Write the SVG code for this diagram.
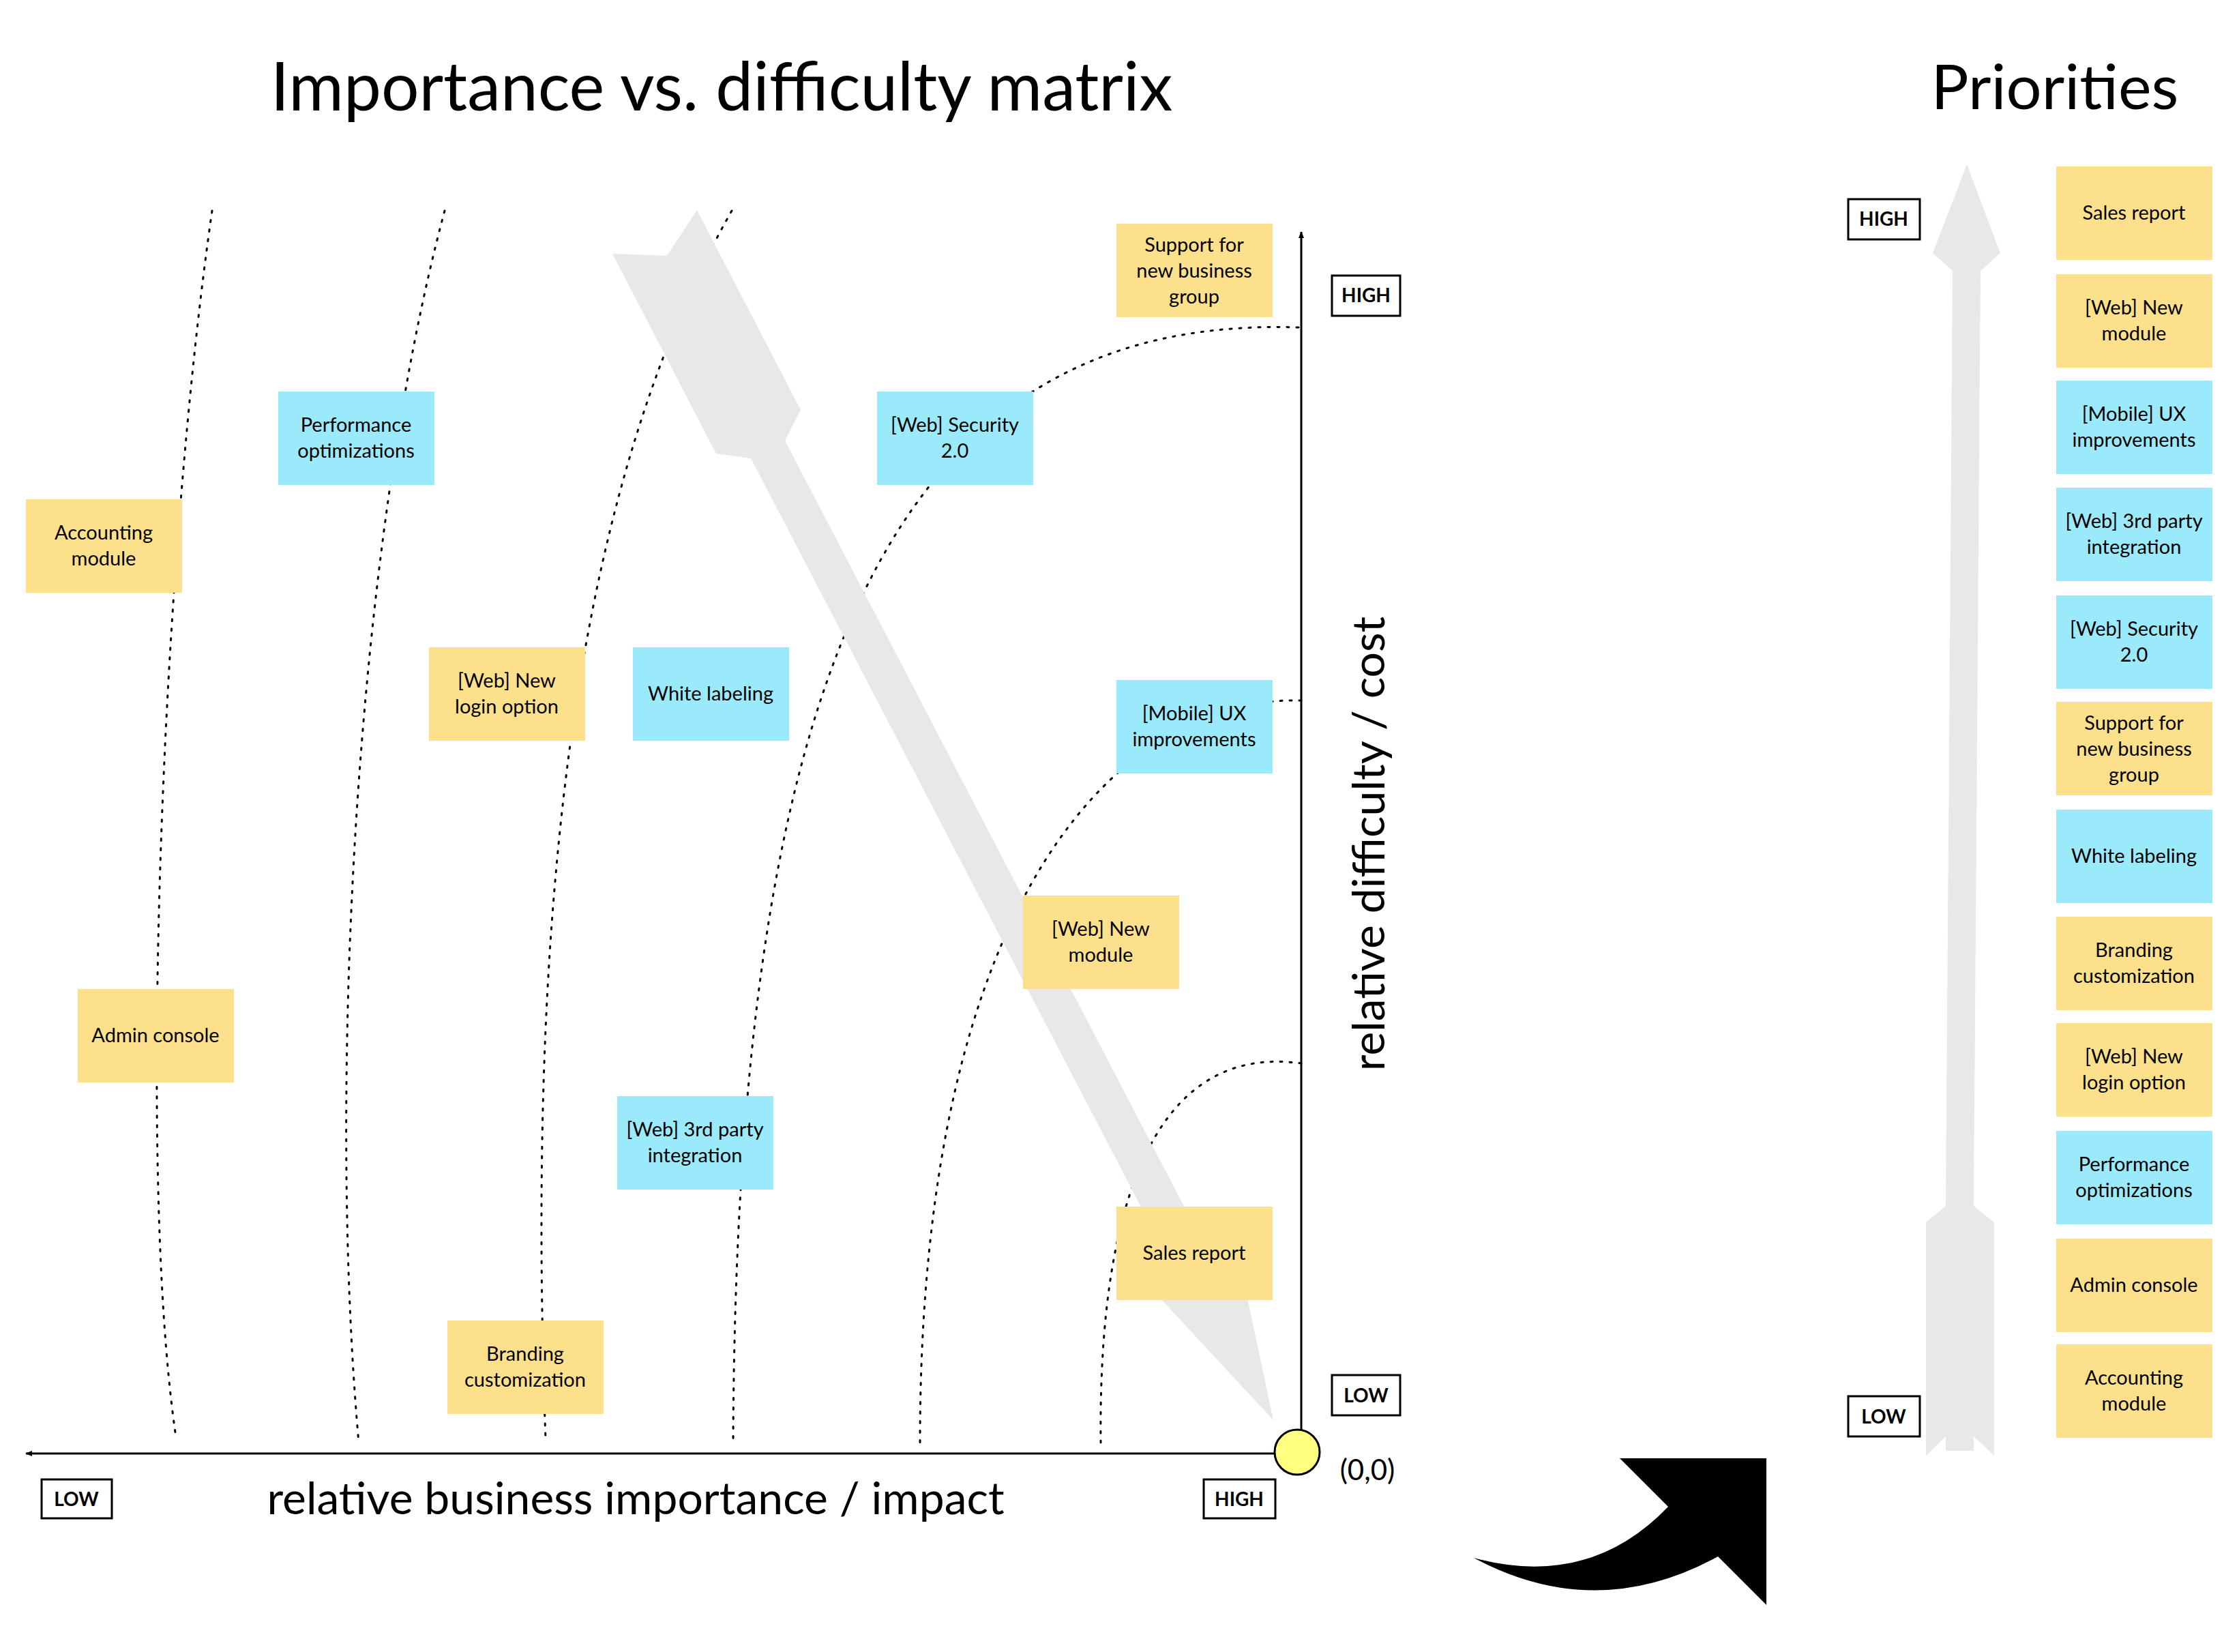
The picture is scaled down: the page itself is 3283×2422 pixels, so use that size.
<svg xmlns="http://www.w3.org/2000/svg" width="3283" height="2422" viewBox="0 0 3283 2422">
<style>
text{font-family:"Lato","Noto Sans","Liberation Sans",sans-serif;fill:#000}
.y{fill:#fde08b}.b{fill:#9aeafc}
.n{font-size:29px;text-anchor:middle}
.lb{fill:#fff;stroke:#000;stroke-width:3}
.lt{font-size:28px;font-weight:bold;text-anchor:middle}
.dot{fill:none;stroke:#000;stroke-width:3;stroke-dasharray:3 11;stroke-linecap:round}
.big{font-size:66px;text-anchor:middle}
</style>
<defs><marker id="ah" markerWidth="10" markerHeight="10" refX="9" refY="5" orient="auto" markerUnits="userSpaceOnUse"><path d="M0,1 L10,5 L0,9 z" fill="#000"/></marker></defs>
<rect width="3283" height="2422" fill="#fff"/>
<text x="1058" y="162" font-size="98" text-anchor="middle">Importance vs. difficulty matrix</text>
<text x="3013" y="160" font-size="92" text-anchor="middle">Priorities</text>
<g id="connectors">
<path class="dot" d="M311,309 C240,800 200,1700 257,2100"/>
<path class="dot" d="M652,309 C520,800 480,1600 526,2115"/>
<path class="dot" d="M1073,309 C850,700 770,1300 800,2110"/>
<path class="dot" d="M1904,480 C1300,460 1080,1000 1075,2115"/>
<path class="dot" d="M1908,1027 C1650,1020 1349,1300 1349,2115"/>
<path class="dot" d="M1908,1559 C1700,1530 1610,1750 1614,2115"/>
<polygon fill="#e8e8e8" points="1022,308 1174,601 1151,646 1766,1826 1808,1804 1867,2082 1674,1874 1716,1852 1101,672 1050,665 898,372 978,375"/>
<polygon fill="#e8e8e8" points="2884,241 2933,371 2904,397 2894,1768 2924,1792 2924,2134 2894,2106 2894,2127 2853,2127 2853,2106 2824,2134 2824,1792 2853,1768 2863,397 2834,371"/>
<path fill="#000" d="M2161,2284 Q2330,2330 2446,2209 L2375,2138 L2590,2138 L2590,2353 L2519,2282 Q2340,2380 2161,2284 z"/>
<line x1="1904" y1="2131" x2="38" y2="2131" stroke="#000" stroke-width="3" marker-end="url(#ah)"/>
<line x1="1908" y1="2131" x2="1908" y2="340" stroke="#000" stroke-width="3" marker-end="url(#ah)"/>
</g>
<g id="origin"><circle cx="1902" cy="2129" r="33" fill="#ffff80" stroke="#000" stroke-width="3"/><text x="2005" y="2170" font-size="42" text-anchor="middle">(0,0)</text></g>
<text class="big" x="932" y="2220">relative business importance / impact</text>
<text class="big" transform="translate(2030,1237) rotate(-90)">relative difficulty / cost</text>
<g id="labels">
<rect class="lb" x="61" y="2169" width="103" height="57"/><text class="lt" x="112" y="2208">LOW</text>
<rect class="lb" x="1765" y="2169" width="105" height="57"/><text class="lt" x="1817" y="2208">HIGH</text>
<rect class="lb" x="1953" y="404" width="100" height="59"/><text class="lt" x="2003" y="443">HIGH</text>
<rect class="lb" x="1953" y="2016" width="100" height="59"/><text class="lt" x="2003" y="2056">LOW</text>
<rect class="lb" x="2710" y="292" width="105" height="59"/><text class="lt" x="2762" y="331">HIGH</text>
<rect class="lb" x="2710" y="2047" width="105" height="59"/><text class="lt" x="2762" y="2087">LOW</text>
</g>
<g id="m-support"><rect class="y" x="1637" y="328" width="229" height="137"/><text class="n" x="1751" y="369">Support for</text><text class="n" x="1751" y="407">new business</text><text class="n" x="1751" y="445">group</text></g>
<g id="m-perf"><rect class="b" x="408" y="574" width="229" height="137"/><text class="n" x="522" y="633">Performance</text><text class="n" x="522" y="671">optimizations</text></g>
<g id="m-sec"><rect class="b" x="1286" y="574" width="229" height="137"/><text class="n" x="1400" y="633">[Web] Security</text><text class="n" x="1400" y="671">2.0</text></g>
<g id="m-acc"><rect class="y" x="38" y="732" width="229" height="137"/><text class="n" x="152" y="791">Accounting</text><text class="n" x="152" y="829">module</text></g>
<g id="m-login"><rect class="y" x="629" y="949" width="229" height="137"/><text class="n" x="743" y="1008">[Web] New</text><text class="n" x="743" y="1046">login option</text></g>
<g id="m-white"><rect class="b" x="928" y="949" width="229" height="137"/><text class="n" x="1042" y="1027">White labeling</text></g>
<g id="m-ux"><rect class="b" x="1637" y="997" width="229" height="137"/><text class="n" x="1751" y="1056">[Mobile] UX</text><text class="n" x="1751" y="1094">improvements</text></g>
<g id="m-newmod"><rect class="y" x="1500" y="1313" width="229" height="137"/><text class="n" x="1614" y="1372">[Web] New</text><text class="n" x="1614" y="1410">module</text></g>
<g id="m-admin"><rect class="y" x="114" y="1450" width="229" height="137"/><text class="n" x="228" y="1528">Admin console</text></g>
<g id="m-3rd"><rect class="b" x="905" y="1607" width="229" height="137"/><text class="n" x="1019" y="1666">[Web] 3rd party</text><text class="n" x="1019" y="1704">integration</text></g>
<g id="m-sales"><rect class="y" x="1637" y="1769" width="229" height="137"/><text class="n" x="1751" y="1847">Sales report</text></g>
<g id="m-brand"><rect class="y" x="656" y="1936" width="229" height="137"/><text class="n" x="770" y="1995">Branding</text><text class="n" x="770" y="2033">customization</text></g>
<g id="p1"><rect class="y" x="3015" y="244" width="229" height="137"/><text class="n" x="3129" y="322">Sales report</text></g>
<g id="p2"><rect class="y" x="3015" y="402" width="229" height="137"/><text class="n" x="3129" y="461">[Web] New</text><text class="n" x="3129" y="499">module</text></g>
<g id="p3"><rect class="b" x="3015" y="558" width="229" height="137"/><text class="n" x="3129" y="617">[Mobile] UX</text><text class="n" x="3129" y="655">improvements</text></g>
<g id="p4"><rect class="b" x="3015" y="715" width="229" height="137"/><text class="n" x="3129" y="774">[Web] 3rd party</text><text class="n" x="3129" y="812">integration</text></g>
<g id="p5"><rect class="b" x="3015" y="873" width="229" height="137"/><text class="n" x="3129" y="932">[Web] Security</text><text class="n" x="3129" y="970">2.0</text></g>
<g id="p6"><rect class="y" x="3015" y="1029" width="229" height="137"/><text class="n" x="3129" y="1070">Support for</text><text class="n" x="3129" y="1108">new business</text><text class="n" x="3129" y="1146">group</text></g>
<g id="p7"><rect class="b" x="3015" y="1187" width="229" height="137"/><text class="n" x="3129" y="1265">White labeling</text></g>
<g id="p8"><rect class="y" x="3015" y="1344" width="229" height="137"/><text class="n" x="3129" y="1403">Branding</text><text class="n" x="3129" y="1441">customization</text></g>
<g id="p9"><rect class="y" x="3015" y="1500" width="229" height="137"/><text class="n" x="3129" y="1559">[Web] New</text><text class="n" x="3129" y="1597">login option</text></g>
<g id="p10"><rect class="b" x="3015" y="1658" width="229" height="137"/><text class="n" x="3129" y="1717">Performance</text><text class="n" x="3129" y="1755">optimizations</text></g>
<g id="p11"><rect class="y" x="3015" y="1816" width="229" height="137"/><text class="n" x="3129" y="1894">Admin console</text></g>
<g id="p12"><rect class="y" x="3015" y="1971" width="229" height="137"/><text class="n" x="3129" y="2030">Accounting</text><text class="n" x="3129" y="2068">module</text></g>
</svg>
